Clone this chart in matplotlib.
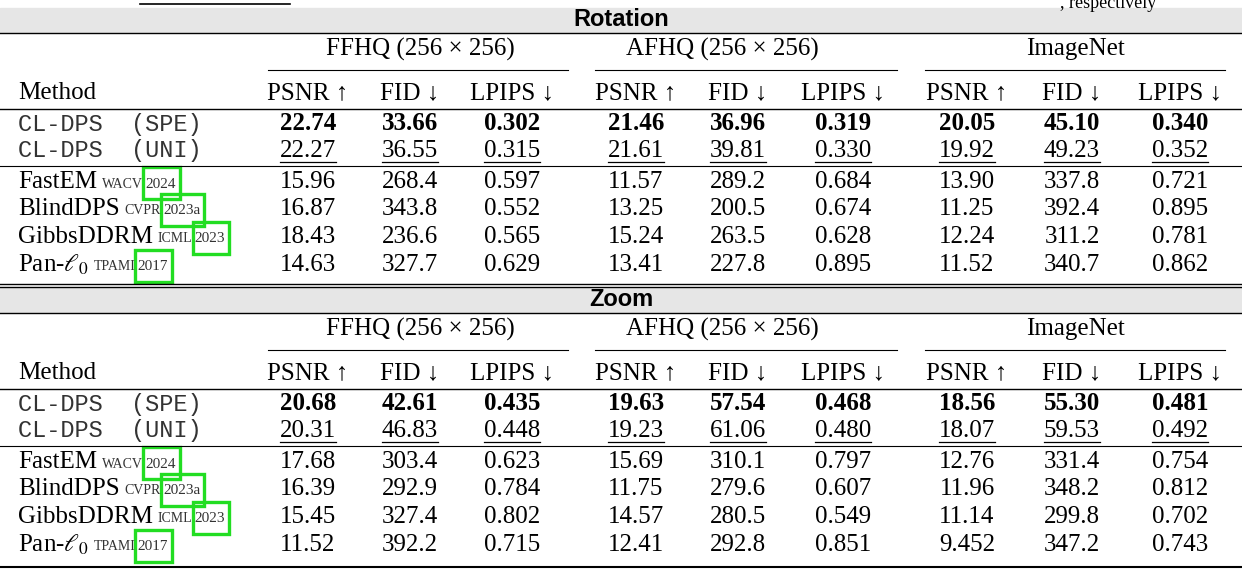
import matplotlib
matplotlib.use("Agg")
import matplotlib.pyplot as plt
from matplotlib.patches import Rectangle

plt.rcParams['font.family'] = ['Liberation Serif', 'DejaVu Serif']
plt.rcParams['mathtext.fontset'] = 'stix'

sections = ["Rotation", "Zoom"]
datasets = ["FFHQ (256 × 256)", "AFHQ (256 × 256)", "ImageNet"]
metrics = ["PSNR ↑", "FID ↓", "LPIPS ↓"]
ours = ["CL-DPS  (SPE)", "CL-DPS  (UNI)"]
baselines = [("FastEM", "WACV", "2024"), ("BlindDPS", "CVPR", "2023a"),
             ("GibbsDDRM", "ICML", "2023"), (r"Pan-$\ell_0$", "TPAMI", "2017")]

rot_vals = [
    ["22.74", "33.66", "0.302", "21.46", "36.96", "0.319", "20.05", "45.10", "0.340"],
    ["22.27", "36.55", "0.315", "21.61", "39.81", "0.330", "19.92", "49.23", "0.352"],
    ["15.96", "268.4", "0.597", "11.57", "289.2", "0.684", "13.90", "337.8", "0.721"],
    ["16.87", "343.8", "0.552", "13.25", "200.5", "0.674", "11.25", "392.4", "0.895"],
    ["18.43", "236.6", "0.565", "15.24", "263.5", "0.628", "12.24", "311.2", "0.781"],
    ["14.63", "327.7", "0.629", "13.41", "227.8", "0.895", "11.52", "340.7", "0.862"],
]
zoom_vals = [
    ["20.68", "42.61", "0.435", "19.63", "57.54", "0.468", "18.56", "55.30", "0.481"],
    ["20.31", "46.83", "0.448", "19.23", "61.06", "0.480", "18.07", "59.53", "0.492"],
    ["17.68", "303.4", "0.623", "15.69", "310.1", "0.797", "12.76", "331.4", "0.754"],
    ["16.39", "292.9", "0.784", "11.75", "279.6", "0.607", "11.96", "348.2", "0.812"],
    ["15.45", "327.4", "0.802", "14.57", "280.5", "0.549", "11.14", "299.8", "0.702"],
    ["11.52", "392.2", "0.715", "12.41", "292.8", "0.851", "9.452", "347.2", "0.743"],
]

fig = plt.figure(figsize=(12.42, 5.72), dpi=100)
ax = fig.add_axes([0, 0, 1, 1])
ax.set_xlim(0, 1242)
ax.set_ylim(572, 0)
ax.axis("off")

FS = 18
col_x = [308, 410, 512, 636, 738, 843, 967, 1072, 1180]
grp_x = [420, 722, 1075]
grp_span = [(268, 568), (595, 897), (925, 1225)]
underlines = []

# cut-off caption line at the top
ax.plot([140, 290], [4, 4], color="black", lw=1.2)
ax.text(1060, 4, ", respectively", fontsize=13, va="center", ha="left", zorder=3)

def draw_section(y0, title, vals):
    ax.add_patch(Rectangle((0, y0 - 12), 1242, 24, color="#e6e6e6", zorder=0))
    ax.text(621, y0, title, fontsize=FS - 1, ha="center", va="center", weight="bold",
            family=["Liberation Sans"])
    ax.plot([0, 1242], [y0 + 13, y0 + 13], color="black", lw=1.0)
    for gx, (a, b), name in zip(grp_x, grp_span, datasets):
        ax.text(gx, y0 + 29, name, fontsize=FS, ha="center", va="center")
        ax.plot([a, b], [y0 + 50, y0 + 50], color="black", lw=0.8)
    ax.text(18, y0 + 73, "Method", fontsize=FS, ha="left", va="center")
    for i, x in enumerate(col_x):
        ax.text(x, y0 + 73, metrics[i % 3], fontsize=FS, ha="center", va="center")
    ax.plot([0, 1242], [y0 + 89, y0 + 89], color="black", lw=1.0)
    rows_y = [y0 + 104, y0 + 131, y0 + 162, y0 + 189, y0 + 217, y0 + 245]
    for r, y in enumerate(rows_y):
        if r < 2:
            ax.text(18, y, ours[r], fontsize=FS - 1, ha="left", va="center",
                    family=["Liberation Mono"], color="#333333")
        else:
            name, venue, year = baselines[r - 2]
            t = ax.text(18, y, name, fontsize=FS, ha="left", va="center")
            fig.canvas.draw()
            x1 = t.get_window_extent().x1 + 5
            tv = ax.text(x1, y + 2, venue, fontsize=10, ha="left", va="center", color="#333333")
            fig.canvas.draw()
            x2 = tv.get_window_extent().x1 + 2
            ty = ax.text(x2, y + 2, year, fontsize=11, ha="left", va="center", color="#333333")
            fig.canvas.draw()
            yb = ty.get_window_extent()
            ax.add_patch(Rectangle((yb.x0 - 2, y - 15), yb.width + 6, 32, fill=False,
                                   edgecolor="#22dd22", lw=2.4))
        for c, x in enumerate(col_x):
            t = ax.text(x, y, vals[r][c], fontsize=FS, ha="center", va="center",
                        weight="bold" if r == 0 else "normal")
            if r == 1:
                underlines.append((t, y))
    ax.plot([0, 1242], [y0 + 146, y0 + 146], color="black", lw=0.8)

draw_section(20, sections[0], rot_vals)
ax.plot([0, 1242], [284, 284], color="black", lw=1.0)
ax.plot([0, 1242], [287, 287], color="black", lw=1.0)
draw_section(300, sections[1], zoom_vals)
ax.plot([0, 1242], [567, 567], color="black", lw=1.5)

fig.canvas.draw()
for t, y in underlines:
    bb = t.get_window_extent()
    ax.plot([bb.x0, bb.x1], [y + 11, y + 11], color="black", lw=0.9)

fig.savefig("out.png", dpi=100)
